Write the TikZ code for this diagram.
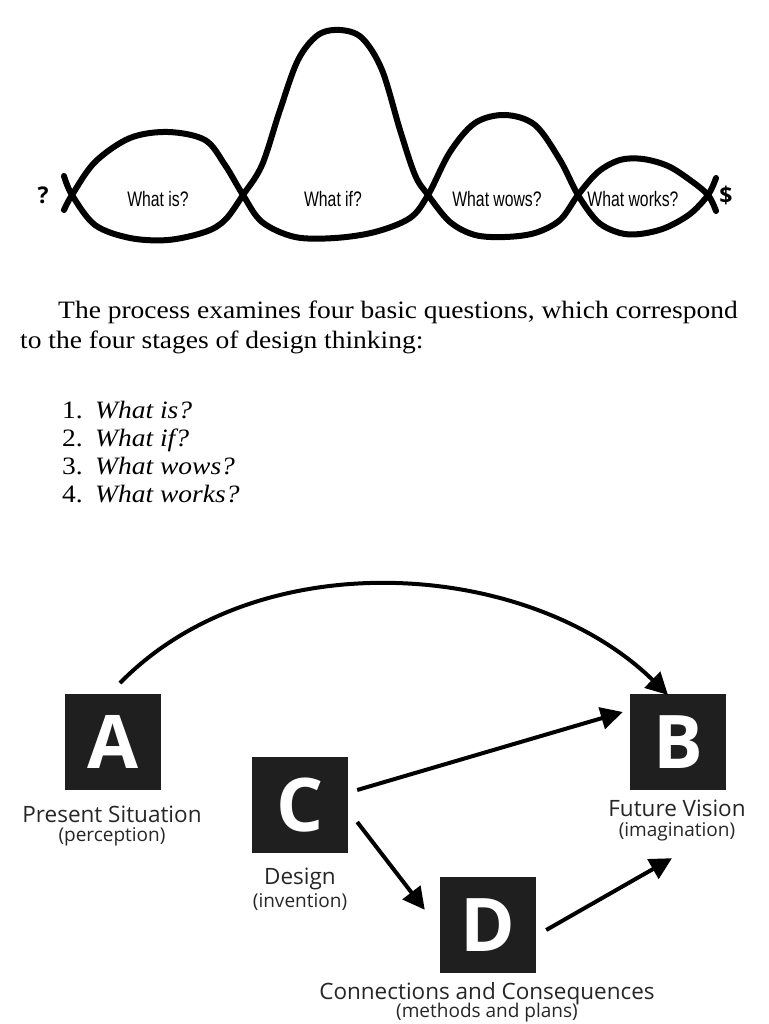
\documentclass[tikz,border=0pt]{standalone}
\usepackage{fontspec}
\setmainfont{Liberation Serif}[FakeStretch=1.1]
\newfontfamily\cond{Liberation Sans}[FakeStretch=0.75]
\newfontfamily\dsans{Open Sans}
\newfontfamily\boldsans{Open Sans}[BoldFont={* Bold}]
\usetikzlibrary{arrows.meta}
\begin{document}
\begin{tikzpicture}[x=1pt,y=-1pt,
  wave/.style={line width=6pt, line cap=round},
  wl/.style={font=\cond\fontsize{21}{21}\selectfont},
  box/.style={fill=black!88, minimum size=96pt, inner sep=0pt, text=white, font=\boldsans\bfseries\fontsize{74}{74}\selectfont},
  lab/.style={font=\dsans\fontsize{22.5}{24}\selectfont, text=black!85},
  sub/.style={font=\dsans\fontsize{19}{20}\selectfont, text=black!85},
  arr/.style={line width=4pt, -{Triangle[length=22pt,width=22pt]}},
  body/.style={font=\fontsize{25}{28}\selectfont, anchor=base west, inner sep=0pt}]
\useasboundingbox (0,0) rectangle (768,1024);
% wave
\draw[wave] plot[smooth, tension=0.55] coordinates {(64,210) (72,195) (95,162) (130,138) (168,132) (205,140) (225,165) (243,195) (262,222) (295,237) (335,238) (375,232) (410,218) (428,195) (450,152) (475,123) (505,115) (535,125) (560,160) (578,195) (598,222) (620,233) (640,234) (665,228) (690,214) (708,195) (716,178)};
\draw[wave] plot[smooth, tension=0.55] coordinates {(64,176) (72,195) (95,225) (130,238) (168,240) (205,232) (225,220) (243,195) (262,165) (280,110) (298,60) (318,35) (340,30) (362,38) (382,70) (400,130) (415,175) (428,195) (450,222) (475,235) (505,237) (535,233) (560,220) (578,195) (598,172) (620,160) (643,159) (668,166) (690,180) (708,195) (716,211)};
\node[font=\dsans\bfseries\fontsize{23}{23}\selectfont] (q) at (43,195) {?};
\node[font=\dsans\bfseries\fontsize{23}{23}\selectfont] (d) at (726,195) {\$};
\node[wl] (w1) at (158,199) {What is?};
\node[wl] (w2) at (333,199) {What if?};
\node[wl] (w3) at (497,199) {What wows?};
\node[wl] (w4) at (633,199) {What works?};
% text
\node[body] (t1) at (58,318) {The process examines four basic questions, which correspond};
\node[body] (t2) at (20,348) {to the four stages of design thinking:};
\foreach \n/\t/\y in {1/What is?/418,2/What if?/446,3/What wows?/474,4/What works?/502}{
  \node[body] (n\n) at (62,\y) {\n.};
  \node[body] (i\n) at (95,\y) {\itshape \t};
}
% diagram
\node[box] (A) at (113,742) {A};
\node[box] (B) at (678,742) {B};
\node[box] (C) at (300,805) {C};
\node[box] (D) at (488,925) {D};
\node[lab] (la) at (112,814) {Present Situation};
\node[sub] (sa) at (112,837) {(perception)};
\node[lab] (lb) at (677,808) {Future Vision};
\node[sub] (sb) at (677,832) {(imagination)};
\node[lab] (lc) at (300,879) {Design};
\node[sub] (sc) at (300,902) {(invention)};
\node[lab] (ld) at (487,994) {Connections and Consequences};
\node[sub] (sd) at (487,1013) {(methods and plans)};
\coordinate (a0) at (120,683);
\coordinate (b0) at (668,695);
\draw[arr] (a0) .. controls (260,540) and (530,560) .. (b0);
\draw[arr] ([xshift=9pt,yshift=15pt]C.east) -- ([xshift=-7pt,yshift=30pt]B.west);
\draw[arr] ([xshift=9pt,yshift=-17pt]C.east) -- ([xshift=-15pt,yshift=-33pt]D.north west);
\draw[arr] ([xshift=10pt,yshift=-5pt]D.east) -- ([xshift=-6pt,yshift=-68pt]B.south);
\end{tikzpicture}
\end{document}
